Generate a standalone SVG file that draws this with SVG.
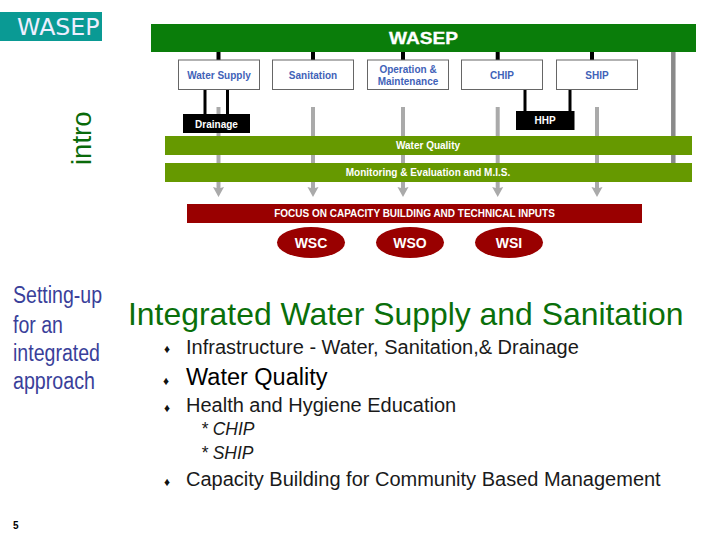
<svg xmlns="http://www.w3.org/2000/svg" width="720" height="540" viewBox="0 0 720 540">
<style>
text{font-family:"Liberation Sans",Arial,sans-serif}
.box{fill:#fff;stroke:#666;stroke-width:1}
.bt{font-size:10px;font-weight:bold;fill:#3f62b8;text-anchor:middle}
.wt{font-size:10px;font-weight:bold;fill:#fff;text-anchor:middle}
.ov{font-size:14px;font-weight:bold;fill:#fff;text-anchor:middle}
.gb{fill:#669900}
.rd{fill:#990000}
.side{font-size:23px;fill:#3a3f9a}
.bul{font-size:20px;fill:#1a1a1a}
.sub{font-size:17.5px;font-style:italic;fill:#1a1a1a}
.dia{font-size:12px;fill:#111}
</style>
<defs>
<marker id="ah" markerUnits="userSpaceOnUse" markerWidth="10" markerHeight="12" refX="3" refY="6" orient="auto"><path d="M0 0.5L10 6L0 11.5L1.5 6Z" fill="#aaa"/></marker>
</defs>
<g id="header"><rect x="0" y="12" width="102" height="29" fill="#0a9a94"/><text x="17" y="35" font-size="23.7" style="font-family:'DejaVu Sans',sans-serif" fill="#eef">WASEP</text></g>
<g id="connectors">
<g stroke="#aaa" stroke-width="4" fill="none" marker-end="url(#ah)">
<line x1="218.5" y1="107" x2="218.5" y2="190"/>
<line x1="313" y1="107" x2="313" y2="190"/>
<line x1="403" y1="107" x2="403" y2="190"/>
<line x1="497.7" y1="107" x2="497.7" y2="190"/>
<line x1="597" y1="107" x2="597" y2="190"/>
</g>
<line x1="673.3" y1="52" x2="673.3" y2="164" stroke="#8a8a8a" stroke-width="4.5"/>
<g stroke="#000" stroke-width="4">
<line x1="218.5" y1="52" x2="218.5" y2="60"/>
<line x1="313" y1="52" x2="313" y2="60"/>
<line x1="403" y1="52" x2="403" y2="60"/>
<line x1="497.7" y1="52" x2="497.7" y2="60"/>
<line x1="592" y1="52" x2="592" y2="60"/>
</g>
<g stroke="#000" stroke-width="3">
<line x1="205" y1="89" x2="205" y2="114"/>
<line x1="227.5" y1="89" x2="227.5" y2="114"/>
<line x1="525" y1="89" x2="525" y2="111"/>
<line x1="570" y1="89" x2="570" y2="111"/>
</g>
</g>
<g id="wasep"><rect x="151" y="24" width="545" height="28" fill="#0a7d0a"/><text x="423.5" y="44" font-size="17" font-weight="bold" fill="#fff" stroke="#fff" stroke-width="0.3" text-anchor="middle" textLength="69" lengthAdjust="spacingAndGlyphs">WASEP</text></g>
<g id="water-supply"><rect class="box" x="178.5" y="60" width="81" height="29.5"/><text class="bt" x="219" y="79">Water Supply</text></g>
<g id="sanitation"><rect class="box" x="272.5" y="60" width="81" height="29.5"/><text class="bt" x="313" y="79">Sanitation</text></g>
<g id="om"><rect class="box" x="367.5" y="60" width="81" height="29.5"/><text class="bt" x="408" y="72.5">Operation &amp;</text><text class="bt" x="408" y="84.5">Maintenance</text></g>
<g id="chip"><rect class="box" x="461.5" y="60" width="81" height="29.5"/><text class="bt" x="502" y="79">CHIP</text></g>
<g id="ship"><rect class="box" x="556.5" y="60" width="81" height="29.5"/><text class="bt" x="597" y="79">SHIP</text></g>
<g id="drainage"><rect x="183" y="114" width="67" height="19" fill="#000"/><text class="wt" x="216.5" y="127.5">Drainage</text></g>
<g id="hhp"><rect x="516" y="111" width="58.5" height="19" fill="#000"/><text class="wt" x="545" y="124">HHP</text></g>
<g id="water-quality"><rect class="gb" x="165" y="136" width="527" height="19"/><text class="wt" x="428" y="149">Water Quality</text></g>
<g id="monitoring"><rect class="gb" x="165" y="163" width="527" height="19"/><text class="wt" x="428" y="176">Monitoring &amp; Evaluation and M.I.S.</text></g>
<g id="focus"><rect class="rd" x="187" y="204" width="455" height="19"/><text class="wt" x="414.5" y="217">FOCUS ON CAPACITY BUILDING AND TECHNICAL INPUTS</text></g>
<g id="wsc"><ellipse class="rd" cx="311" cy="242.5" rx="34" ry="15.5"/><text class="ov" x="311" y="248">WSC</text></g>
<g id="wso"><ellipse class="rd" cx="410" cy="242.5" rx="34" ry="15.5"/><text class="ov" x="410" y="248">WSO</text></g>
<g id="wsi"><ellipse class="rd" cx="509" cy="242.5" rx="34" ry="15.5"/><text class="ov" x="509" y="248">WSI</text></g>
<text transform="translate(91 165) rotate(-90)" font-size="27.5" fill="#0a6a0a">intro</text>
<text class="side" x="13" y="303" textLength="89" lengthAdjust="spacingAndGlyphs">Setting-up</text><text class="side" x="13" y="332.500" textLength="50" lengthAdjust="spacingAndGlyphs">for an</text><text class="side" x="13" y="361" textLength="87" lengthAdjust="spacingAndGlyphs">integrated</text><text class="side" x="13" y="389" textLength="82" lengthAdjust="spacingAndGlyphs">approach</text>
<text x="128" y="325" font-size="31.9" fill="#0a6f0a">Integrated Water Supply and Sanitation</text>
<text class="dia" x="164" y="353">♦</text><text class="bul" x="186" y="354">Infrastructure - Water, Sanitation,&amp; Drainage</text>
<text class="dia" x="163" y="385" font-size="14">♦</text><text x="186" y="385" font-size="23.5" fill="#000">Water Quality</text>
<text class="dia" x="164" y="412">♦</text><text class="bul" x="186" y="412">Health and Hygiene Education</text>
<text class="sub" x="201" y="435">* CHIP</text>
<text class="sub" x="201" y="459">* SHIP</text>
<text class="dia" x="164" y="486">♦</text><text class="bul" x="186" y="486">Capacity Building for Community Based Management</text>
<text x="13" y="529" font-size="10" font-weight="bold" fill="#000">5</text>
</svg>
